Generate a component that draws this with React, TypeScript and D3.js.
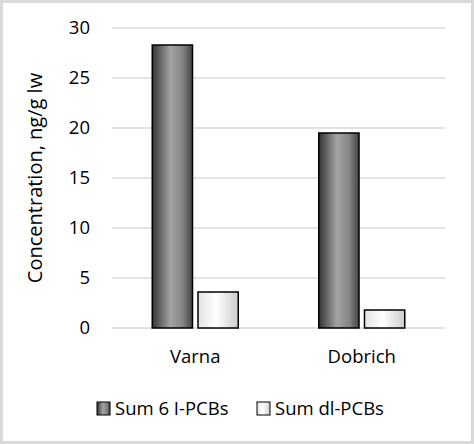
import React from "react";
import * as d3 from "d3";

const categories = ["Varna", "Dobrich"];
const seriesNames = ["Sum 6 I-PCBs", "Sum dl-PCBs"];
const sum6IPCBs = [28.3, 19.5];
const sumDlPCBs = [3.6, 1.8];
const yTicks = [0, 5, 10, 15, 20, 25, 30];

const W = 474;
const H = 444;
const margin = { left: 112, right: 29, top: 28, bottom: 116 };

export default function App() {
  const x = d3
    .scaleBand<string>()
    .domain(categories)
    .range([margin.left, W - margin.right])
    .paddingInner(0)
    .paddingOuter(0);
  const y = d3.scaleLinear().domain([0, 30]).range([H - margin.bottom, margin.top]);
  const inner = d3
    .scaleBand<string>()
    .domain(seriesNames)
    .range([0, 86])
    .paddingInner(0.12);
  const series = [sum6IPCBs, sumDlPCBs];
  const fills = ["url(#gDark)", "url(#gLight)"];
  const font = "'Open Sans', sans-serif";

  return (
    <svg
      width={W}
      height={H}
      style={{ position: "absolute", left: 0, top: 0 }}
      fontFamily={font}
    >
      <defs>
        <linearGradient id="gDark" x1="0" x2="1" y1="0" y2="0">
          <stop offset="0" stopColor="#333333" />
          <stop offset="0.45" stopColor="#a3a3a3" />
          <stop offset="0.75" stopColor="#858585" />
          <stop offset="1" stopColor="#444444" />
        </linearGradient>
        <linearGradient id="gLight" x1="0" x2="1" y1="0" y2="0">
          <stop offset="0" stopColor="#e3e3e3" />
          <stop offset="0.45" stopColor="#ffffff" />
          <stop offset="1" stopColor="#cccccc" />
        </linearGradient>
      </defs>
      <rect x={0} y={0} width={W} height={H} fill="#ffffff" />
      <rect x={1.5} y={1.5} width={W - 3} height={H - 3} fill="none" stroke="#d9d9d9" strokeWidth={3} />
      {yTicks.map((t) => (
        <g key={t}>
          <line
            x1={margin.left}
            x2={W - margin.right}
            y1={y(t)}
            y2={y(t)}
            stroke="#d9d9d9"
            strokeWidth={1.5}
          />
          <text x={90} y={y(t)} dy="0.35em" textAnchor="end" fontSize={18.5} fill="#000">
            {t}
          </text>
        </g>
      ))}
      {categories.map((c, ci) => {
        const gx = (x(c) as number) + x.bandwidth() / 2 - 43;
        return (
          <g key={c}>
            {series.map((s, si) => {
              const bx = gx + (inner(seriesNames[si]) as number);
              return (
                <rect
                  key={si}
                  x={bx}
                  y={y(s[ci])}
                  width={inner.bandwidth()}
                  height={y(0) - y(s[ci])}
                  fill={fills[si]}
                  stroke="#000"
                  strokeWidth={1.5}
                />
              );
            })}
            <text
              x={(x(c) as number) + x.bandwidth() / 2}
              y={357}
              dy="0.35em"
              textAnchor="middle"
              fontSize={18.5}
              fill="#000"
            >
              {c}
            </text>
          </g>
        );
      })}
      <text
        transform={`translate(35,${(margin.top + H - margin.bottom) / 2}) rotate(-90)`}
        textAnchor="middle"
        dy="0.35em"
        fontSize={20}
        fill="#000"
      >
        Concentration, ng/g lw
      </text>
      {seriesNames.map((n, i) => {
        const lx = [97, 257][i];
        return (
          <g key={n}>
            <rect x={lx} y={402} width={13} height={13} fill={fills[i]} stroke="#000" strokeWidth={1} />
            <text x={lx + 18} y={409} dy="0.35em" fontSize={18.5} fill="#000">
              {n}
            </text>
          </g>
        );
      })}
    </svg>
  );
}
